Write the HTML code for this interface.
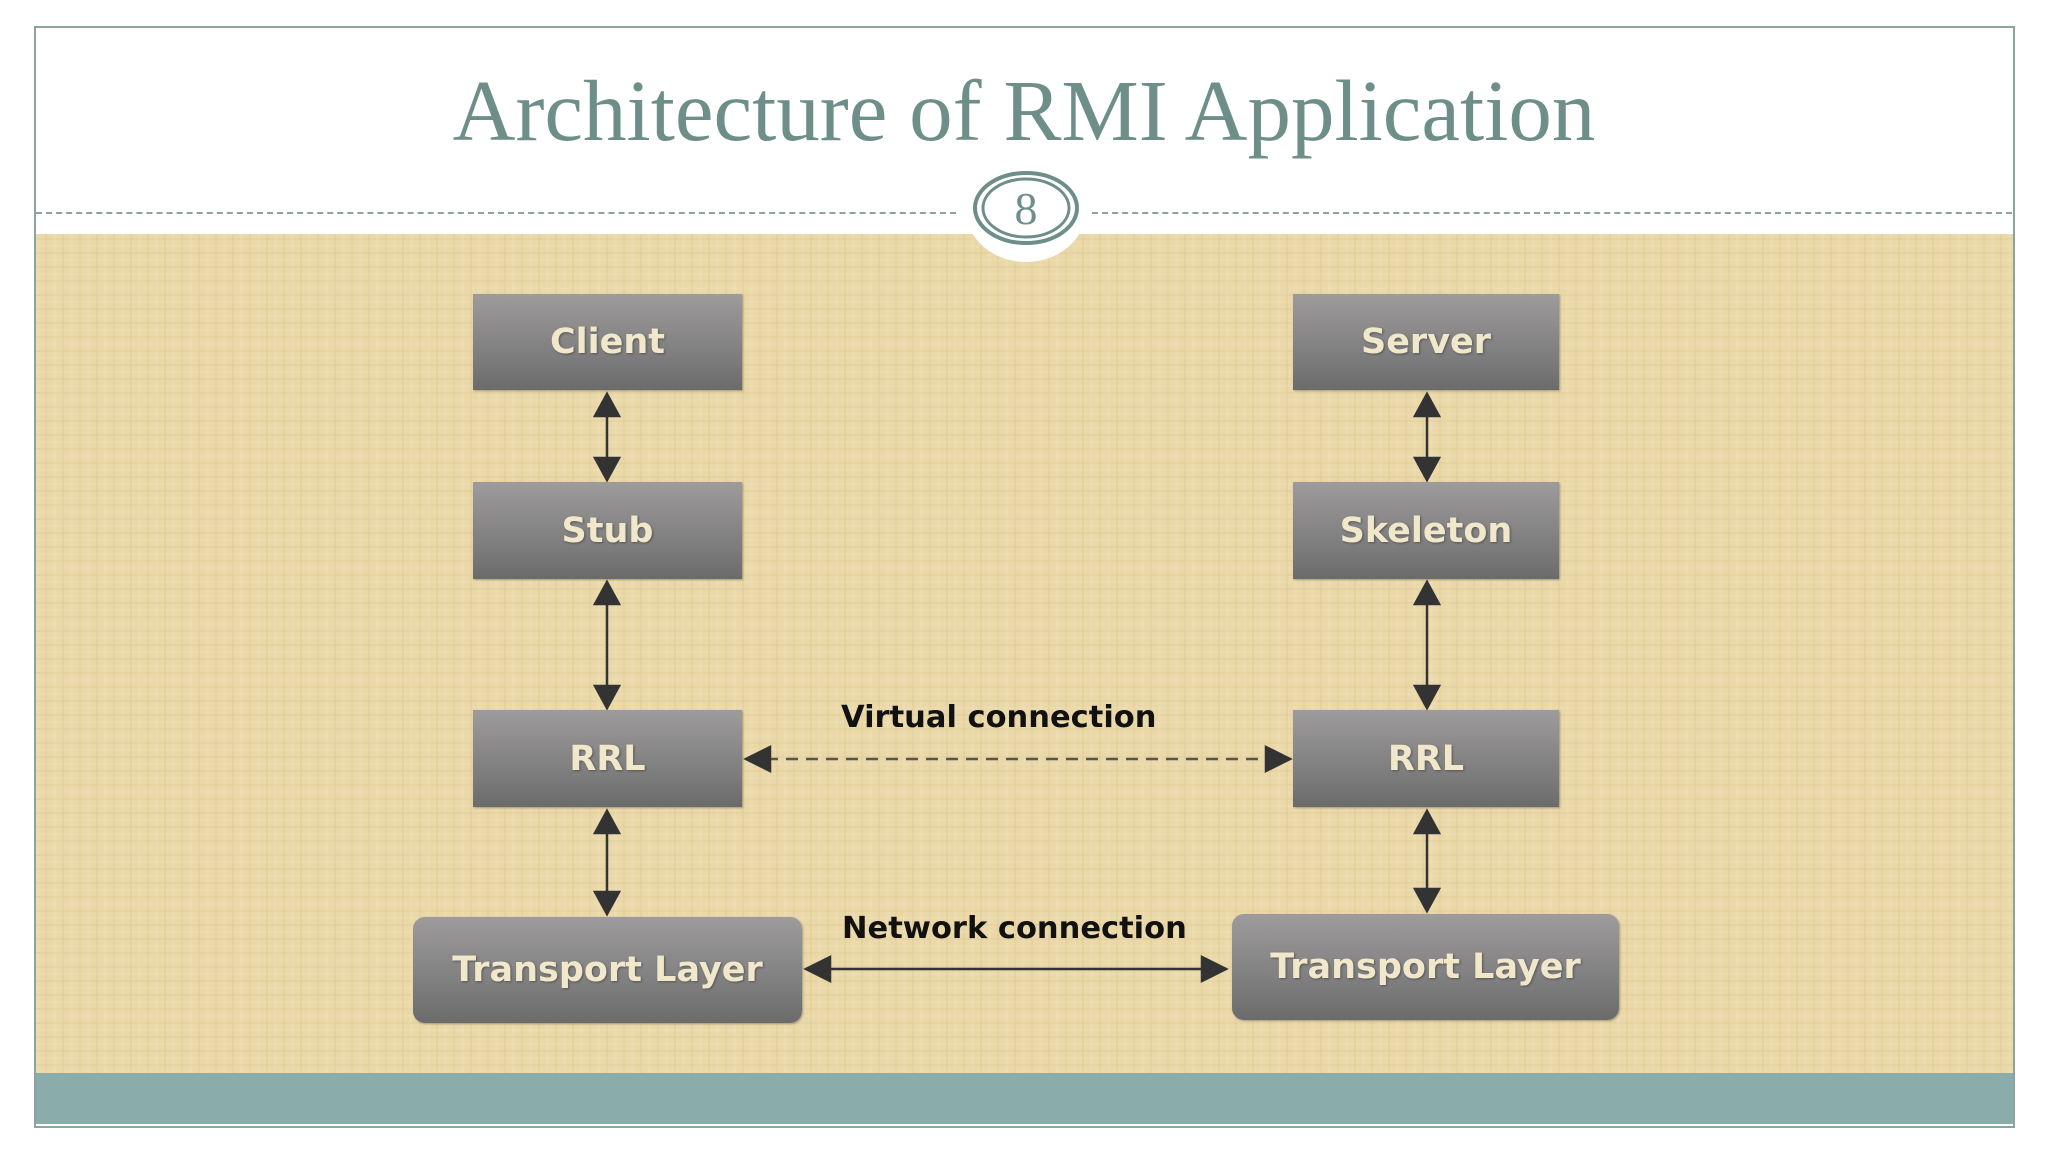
<!DOCTYPE html>
<html><head><meta charset="utf-8"><style>
html,body{margin:0;padding:0;background:#fff;}
body{width:2048px;height:1152px;position:relative;overflow:hidden;font-family:"DejaVu Sans",sans-serif;}
.frame{position:absolute;left:34px;top:26px;width:1977px;height:1098px;border:2px solid #8aa5a0;}
.beige{position:absolute;left:36px;top:234px;width:1977px;height:839px;
background:
repeating-linear-gradient(90deg,rgba(255,255,255,0.08) 0 3px,rgba(0,0,0,0) 3px 9px,rgba(160,120,40,0.06) 9px 11px,rgba(0,0,0,0) 11px 17px),
repeating-linear-gradient(0deg,rgba(255,255,255,0.07) 0 2px,rgba(0,0,0,0) 2px 7px,rgba(160,120,40,0.05) 7px 9px,rgba(0,0,0,0) 9px 14px),
#ead8a8;}
.teal{position:absolute;left:36px;top:1073px;width:1977px;height:51px;background:#8aacaa;}
.title{position:absolute;left:0;width:2048px;top:60px;text-align:center;font-family:"Liberation Serif",serif;font-size:87px;color:#6e8f89;}
.dash{position:absolute;top:212px;height:0;border-top:2px dashed #8aa5a0;}
.box{position:absolute;background:linear-gradient(#9d9b9b,#7c7b7b 70%,#6c6b6b);color:#f1e8cb;font-weight:bold;font-size:35px;display:flex;align-items:center;justify-content:center;text-shadow:1px 1px 2px #555;box-shadow:1px 1px 2px rgba(0,0,0,.3);}
.lbl{position:absolute;font-weight:bold;font-size:30.5px;color:#111;white-space:nowrap;}
</style></head><body>
<div class="frame"></div>
<div class="beige"></div>
<div class="teal"></div>
<div class="title">Architecture of RMI Application</div>
<div class="dash" style="left:36px;width:920px"></div>
<div class="dash" style="left:1092px;width:920px"></div>
<svg style="position:absolute;left:0;top:0" width="2048" height="1152">
<ellipse cx="1026" cy="210" rx="60" ry="52" fill="#fff"/>
<ellipse cx="1026" cy="208" rx="51" ry="35" fill="none" stroke="#6e8f89" stroke-width="4"/>
<ellipse cx="1026" cy="208" rx="43" ry="29" fill="none" stroke="#6e8f89" stroke-width="3"/>
<text x="1026" y="224" text-anchor="middle" font-family="Liberation Serif" font-size="46" fill="#6e8f89">8</text>
<g stroke="#333" stroke-width="2.5" fill="#333">
<line x1="607" y1="394" x2="607" y2="480"/>
<path d="M595,416 L607,394 L619,416z M595,458 L607,480 L619,458z"/>
<line x1="607" y1="582" x2="607" y2="708"/>
<path d="M595,604 L607,582 L619,604z M595,686 L607,708 L619,686z"/>
<line x1="607" y1="811" x2="607" y2="914"/>
<path d="M595,833 L607,811 L619,833z M595,892 L607,914 L619,892z"/>
<line x1="1427" y1="394" x2="1427" y2="480"/>
<path d="M1415,416 L1427,394 L1439,416z M1415,458 L1427,480 L1439,458z"/>
<line x1="1427" y1="582" x2="1427" y2="708"/>
<path d="M1415,604 L1427,582 L1439,604z M1415,686 L1427,708 L1439,686z"/>
<line x1="1427" y1="811" x2="1427" y2="911"/>
<path d="M1415,833 L1427,811 L1439,833z M1415,889 L1427,911 L1439,889z"/>
<line x1="746" y1="759" x2="1290" y2="759" stroke-dasharray="12 8" stroke="#555"/>
<path d="M746,759 L770,747 L770,771z M1290,759 L1266,747 L1266,771z"/>
<line x1="806" y1="969" x2="1226" y2="969"/>
<path d="M806,969 L830,957 L830,981z M1226,969 L1202,957 L1202,981z"/>
</g>
</svg>
<div class="box" style="left:473px;top:294px;width:269px;height:96px">Client</div>
<div class="box" style="left:473px;top:482px;width:269px;height:97px">Stub</div>
<div class="box" style="left:473px;top:710px;width:269px;height:97px">RRL</div>
<div class="box" style="left:413px;top:917px;width:389px;height:106px;border-radius:12px">Transport Layer</div>
<div class="box" style="left:1293px;top:294px;width:266px;height:96px">Server</div>
<div class="box" style="left:1293px;top:482px;width:266px;height:97px">Skeleton</div>
<div class="box" style="left:1293px;top:710px;width:266px;height:97px">RRL</div>
<div class="box" style="left:1232px;top:914px;width:387px;height:106px;border-radius:12px">Transport Layer</div>
<div class="lbl" style="left:841px;top:700px">Virtual connection</div>
<div class="lbl" style="left:842px;top:911px">Network connection</div>
</body></html>
